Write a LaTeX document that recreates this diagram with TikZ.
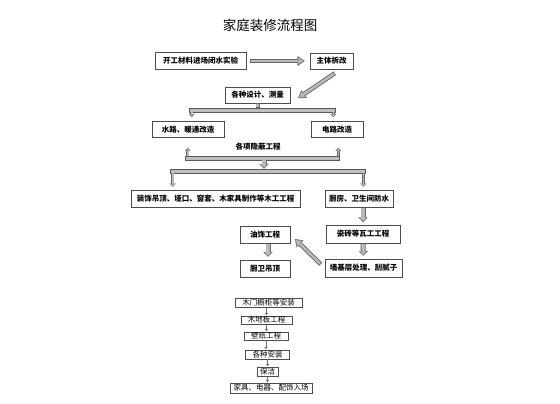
\documentclass[tikz,border=0pt]{standalone}
\usepackage{fontspec}
\newfontfamily\cjk{Noto Sans CJK SC}
\usetikzlibrary{arrows.meta}
\tikzset{
  box/.style={draw=black!70, line width=0.7pt, fill=white, inner sep=0pt,
    font=\cjk\bfseries\fontsize{7.5}{8}\selectfont},
  sbox/.style={draw=black!70, line width=0.7pt, fill=white, inner sep=0pt,
    font=\cjk\fontsize{7.5}{8}\selectfont},
  bar/.style={draw=black!65, fill=gray!50, line width=0.6pt, inner sep=0pt, minimum height=4pt},
  bigA/.style 2 args={line width=4.4pt, draw=black!60,
    -{Triangle[length=7pt,width=9.5pt,line width=0.1pt]},
    shorten <=#1, shorten >=#2,
    postaction={draw=gray!55, line width=2.6pt,
      -{Triangle[length=5pt,width=6.5pt,line width=0.1pt]},
      shorten <=#1+0.9pt, shorten >=#2+1.3pt}},
  midA/.style 2 args={line width=5pt, draw=black!60,
    -{Triangle[length=4.5pt,width=9pt,line width=0.1pt]},
    shorten <=#1, shorten >=#2,
    postaction={draw=gray!55, line width=3.4pt,
      -{Triangle[length=3pt,width=6pt,line width=0.1pt]},
      shorten <=#1, shorten >=#2+1pt}},
  stubA/.style 2 args={line width=3pt, draw=black!60,
    -{Triangle[length=3pt,width=5.5pt,line width=0.1pt]},
    shorten <=#1, shorten >=#2,
    postaction={draw=gray!55, line width=1.6pt,
      -{Triangle[length=2pt,width=3.6pt,line width=0.1pt]},
      shorten <=#1, shorten >=#2+0.8pt}},
  sq/.style={line width=4pt, draw=black!60,
    postaction={draw=gray!55, line width=2.4pt, shorten <=0.8pt, shorten >=0.8pt}},
  thinA/.style={line width=0.9pt, draw=black!55, -{Triangle[length=2.2pt,width=3.2pt]},
    shorten <=0.5pt, shorten >=0.5pt}
}
\begin{document}
\begin{tikzpicture}[x=1pt,y=-1pt]
\useasboundingbox[fill=white] (0,0) rectangle (560,404);
% title
\node[font=\cjk\fontsize{13.5}{15}\selectfont] (title) at (270,25) {家庭装修流程图};
% upper boxes
\node[box, minimum width=91pt, minimum height=17pt] (b1) at (200.5,61) {开工材料进场闭水实验};
\node[box, minimum width=43pt, minimum height=16pt] (b2) at (331.5,61) {主体拆改};
\node[box, minimum width=65pt, minimum height=16pt] (b3) at (257.5,95) {各种设计、测量};
\node[bar, minimum width=146pt] (bar1) at (262,110) {};
\node[box, minimum width=72pt, minimum height=16pt] (b4) at (188,129.5) {水路、暖通改造};
\node[box, minimum width=52pt, minimum height=16pt] (b5) at (337,129.5) {电路改造};
\node[font=\cjk\bfseries\fontsize{7.5}{8}\selectfont, inner sep=0pt] (t2) at (258,147) {各项隐蔽工程};
\node[bar, minimum width=154pt] (bar2) at (262,158) {};
\node[bar, minimum width=195pt] (bar3) at (267.5,171) {};
\node[box, minimum width=169pt, minimum height=17pt] (b6) at (215.5,198.5) {装饰吊顶、垭口、窗套、木家具制作等木工工程};
\node[box, minimum width=68pt, minimum height=17pt] (b7) at (359,198.5) {厨房、卫生间防水};
\node[box, minimum width=74pt, minimum height=18pt] (b8) at (363,234) {瓷砖等瓦工工程};
\node[box, minimum width=77pt, minimum height=18pt] (b9) at (363.5,268) {墙基层处理、刮腻子};
\node[box, minimum width=50pt, minimum height=17pt] (b10) at (265,234.5) {油饰工程};
\node[box, minimum width=50pt, minimum height=17pt] (b11) at (265,268.5) {厨卫吊顶};
% bottom chain
\node[sbox, minimum width=67pt, minimum height=8.5pt] (c1) at (268.5,303) {木门橱柜等安装};
\node[sbox, minimum width=51pt, minimum height=8pt] (c2) at (266.5,320) {木地板工程};
\node[sbox, minimum width=44pt, minimum height=8pt] (c3) at (266,336) {壁纸工程};
\node[sbox, minimum width=44pt, minimum height=9pt] (c4) at (267.5,354.5) {各种安装};
\node[sbox, minimum width=21pt, minimum height=9pt] (c5) at (267.5,371.5) {保洁};
\node[sbox, minimum width=82pt, minimum height=10pt] (c6) at (271,388) {家具、电器、配饰入场};
% connectors
\draw[bigA={4pt}{5pt}] (b1.east) -- (b1.east -| b2.west);
\draw[bigA={7pt}{9.5pt}] ([xshift=9pt]b2.south) -- (b3.south east);
\draw[sq] (b3.south) -- (b3.south |- bar1.north);
\draw[stubA={0pt}{4pt}] ([xshift=3pt]bar1.south west) -- ([xshift=3pt]bar1.south west |- b4.north);
\draw[stubA={0pt}{4pt}] ([xshift=-2pt]bar1.south east) -- ([xshift=-2pt]bar1.south east |- b5.north);
\draw[stubA={0pt}{10pt}] ([xshift=3pt]bar2.north west) -- ([xshift=3pt]bar2.north west |- b4.south);
\draw[stubA={0pt}{10pt}] ([xshift=-1pt]bar2.north east) -- ([xshift=-1pt]bar2.north east |- b5.south);
\draw[midA={0pt}{0pt}] ([xshift=2pt]bar2.south) -- ([xshift=2pt]bar2.south |- bar3.north);
\draw[stubA={0pt}{3pt}] ([xshift=3pt]bar3.south west) -- ([xshift=3pt]bar3.south west |- b6.north);
\draw[stubA={0pt}{3pt}] ([xshift=-2pt]bar3.south east) -- ([xshift=-2pt]bar3.south east |- b7.north);
\draw[midA={0.5pt}{2.5pt}] (b8.north |- b7.south) -- (b8.north);
\draw[midA={0.5pt}{3pt}] (b8.south) -- (b9.north);
\draw[midA={0.5pt}{3pt}] ([xshift=3pt]b10.south) -- ([xshift=3pt]b11.north);
\draw[bigA={5.5pt}{6.5pt}] (b9.west) -- (b10.east);
\draw[thinA] (c1.south -| c2.north) -- (c2.north);
\draw[thinA] (c2.south) -- (c2.south |- c3.north);
\draw[thinA] (c3.south) -- (c3.south |- c4.north);
\draw[thinA] (c4.south) -- (c4.south |- c5.north);
\draw[thinA] (c5.south) -- (c5.south |- c6.north);
\end{tikzpicture}
\end{document}
